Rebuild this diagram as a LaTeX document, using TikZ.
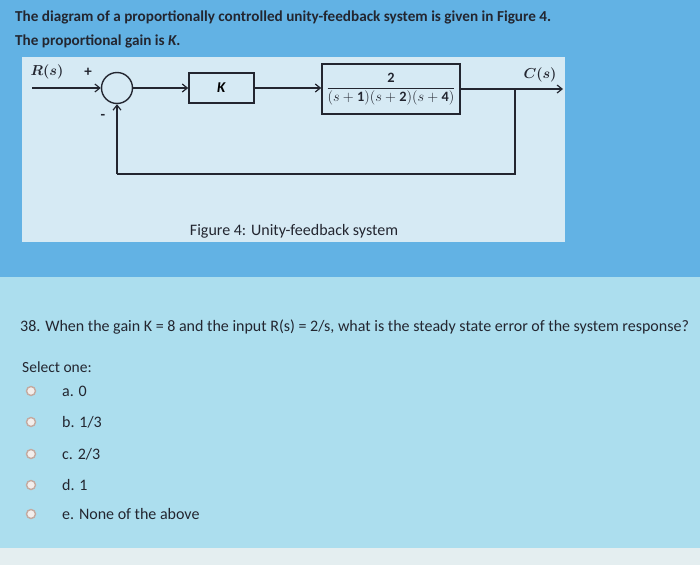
\documentclass[tikz,border=0pt]{standalone}
\usepackage{fontspec}
\setmainfont{Carlito}
\usetikzlibrary{arrows.meta}
\definecolor{bgblue}{RGB}{98,178,228}
\definecolor{panel}{RGB}{214,234,244}
\definecolor{qpanel}{RGB}{172,222,238}
\definecolor{bottomstrip}{RGB}{228,238,240}
\definecolor{ink}{RGB}{35,38,48}
\definecolor{radio}{RGB}{196,170,160}
\begin{document}
\begin{tikzpicture}[x=1pt,y=-1pt,
  wire/.style={draw=ink,line width=1.4pt},
  arr/.style={wire,-{Straight Barb[length=5pt,width=8pt,line width=1.2pt]}},
  blk/.style={draw=ink,line width=1.6pt,minimum height=30pt,inner sep=0pt},
  txt/.style={anchor=west,inner sep=0pt,text=ink},
  hd/.style={txt,font=\fontsize{15.2}{18}\selectfont\bfseries},
  qt/.style={txt,font=\fontsize{16}{19}\selectfont},
  mth/.style={text=ink,inner sep=0pt,font=\fontsize{15}{17}\selectfont\boldmath},
  rb/.style={circle,draw=radio,fill=white!80!radio,line width=1.4pt,minimum size=9pt,inner sep=0pt}]
\useasboundingbox (0,0) rectangle (700,565);
\fill[bgblue] (0,0) rectangle (700,565);
\fill[qpanel] (0,277) rectangle (700,548);
\fill[bottomstrip] (0,548) rectangle (700,565);
\fill[panel] (22,57) rectangle (565,242);
% header
\node[hd] (h1) at (15,17) {The diagram of a proportionally controlled unity-feedback system is given in Figure 4.};
\node[hd] (h2) at (15,41) {The proportional gain is \textit{K}.};
% block diagram
\coordinate (in) at (32,88);
\node[circle,draw=ink,line width=1.4pt,minimum size=31pt,inner sep=0pt] (sum) at (117,88) {};
\node[blk,minimum width=65pt] (K) at (221.5,88) {\fontsize{15}{17}\selectfont\bfseries\textit{K}};
\node[blk,minimum width=138pt,minimum height=50pt] (G) at (391,89) {};
\node[text=ink,inner sep=0pt] (frac) at (391,89) {\fontsize{14.3}{17}\selectfont$\displaystyle\frac{\mathbf{2}}{(s+\mathbf{1})(s+\mathbf{2})(s+\mathbf{4})}$};
\coordinate (out) at (563,89);
\coordinate (br) at (515,89);
\coordinate (bot) at (515,174);
\coordinate (botl) at (sum.south |- bot);
\draw[arr] (in) -- (sum.west);
\draw[arr] (sum.east) -- (K.west);
\draw[arr] (K.east) -- (G.west |- K.east);
\draw[arr] (G.east |- out) -- (out);
\draw[wire] (br) -- (bot) -- (botl);
\draw[arr] (botl) -- (sum.south);
\node[mth] (R) at (47,72) {$R(s)$};
\node[mth] (C) at (540,75) {$C(s)$};
\node[text=ink,inner sep=0pt] (plus) at (88,72) {\fontsize{15}{17}\selectfont\bfseries +};
\node[text=ink,inner sep=0pt] (minus) at (103,117) {\fontsize{15}{17}\selectfont\bfseries -};
\node[text=ink,inner sep=0pt] (cap) at (294,231) {\fontsize{16}{19}\selectfont Figure 4: Unity-feedback system};
% question
\node[qt] (q) at (20,327) {38. When the gain K = 8 and the input R(s) = 2/s, what is the steady state error of the system response?};
\node[qt,font=\fontsize{15.5}{18}\selectfont] (sel) at (22,367) {Select one:};
\node[rb] (r1) at (31,391) {};
\node[rb] (r2) at (31,422) {};
\node[rb] (r3) at (31,454) {};
\node[rb] (r4) at (31,485) {};
\node[rb] (r5) at (31,514) {};
\node[qt] (a) at (62,391) {a. 0};
\node[qt] (b) at (62,422) {b. 1/3};
\node[qt] (c) at (62,454) {c. 2/3};
\node[qt] (d) at (62,485) {d. 1};
\node[qt] (e) at (62,514) {e. None of the above};
\end{tikzpicture}
\end{document}
